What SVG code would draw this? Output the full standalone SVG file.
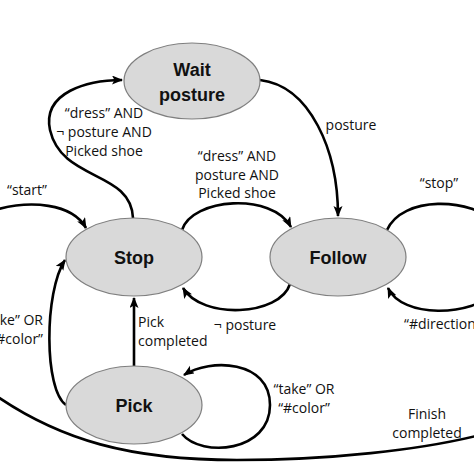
<svg xmlns="http://www.w3.org/2000/svg" width="474" height="474" viewBox="0 0 474 474">
<style>
.st{fill:#d9d9d9;stroke:#7f7f7f;stroke-width:1.2}
.t{font-family:"Liberation Sans",Arial,sans-serif;font-weight:bold;font-size:18px;fill:#111;text-anchor:middle}
.l{font-family:"Open Sans","Liberation Sans",sans-serif;font-size:14px;fill:#111}
.c{fill:none;stroke:#000;stroke-width:2.6}
</style>
<defs>
<marker id="ah" markerUnits="userSpaceOnUse" markerWidth="12" markerHeight="10" refX="10" refY="4.5" orient="auto">
<path d="M0,0 L11,4.5 L0,9 L2.5,4.5 z" fill="#000"/>
</marker>
</defs>
<rect width="474" height="474" fill="#fff"/>
<g id="connectors">
<path class="c" d="M133,218 C131,170 62,182 50,130 C42,92 88,80 122,80" marker-end="url(#ah)"/>
<path class="c" d="M260,80 C310,86 338,150 338,216" marker-end="url(#ah)"/>
<path class="c" d="M182,230 C192,198 272,192 291,227" marker-end="url(#ah)"/>
<path class="c" d="M290,284 C280,316 202,320 183,288" marker-end="url(#ah)"/>
<path class="c" d="M387,230 C402,196 470,196 500,225 M500,290 C470,318 402,318 388,288" marker-end="url(#ah)"/>
<path class="c" d="M-5,210 C30,200 72,203 86,228" marker-end="url(#ah)"/>
<path class="c" d="M66,405 C44,390 44,292 65,260" marker-end="url(#ah)"/>
<path class="c" d="M134,366 L134,298" marker-end="url(#ah)"/>
<path class="c" d="M182,434 C202,458 270,452 270,405 C270,360 210,358 184,375" marker-end="url(#ah)"/>
<path class="c" d="M-5,395 C60,440 130,460 237,460 C330,460 420,450 480,435"/>
</g>
<g id="wait"><ellipse class="st" cx="192" cy="81" rx="68" ry="38"/><text class="t" x="192" y="76">Wait</text><text class="t" x="192" y="101">posture</text></g>
<g id="stop"><ellipse class="st" cx="134" cy="257" rx="68" ry="39"/><text class="t" x="134" y="264">Stop</text></g>
<g id="follow"><ellipse class="st" cx="338" cy="257" rx="68" ry="39"/><text class="t" x="338" y="264">Follow</text></g>
<g id="pick"><ellipse class="st" cx="134" cy="405" rx="68" ry="39"/><text class="t" x="134" y="412">Pick</text></g>
<g id="labels">
<text class="l" x="104" y="118" text-anchor="middle">“dress” AND</text>
<text class="l" x="104" y="137" text-anchor="middle">¬ posture AND</text>
<text class="l" x="104" y="156" text-anchor="middle">Picked shoe</text>
<text class="l" x="351" y="130" text-anchor="middle">posture</text>
<text class="l" x="237" y="161" text-anchor="middle">“dress” AND</text>
<text class="l" x="237" y="180" text-anchor="middle">posture AND</text>
<text class="l" x="237" y="198" text-anchor="middle">Picked shoe</text>
<text class="l" x="439" y="188" text-anchor="middle">“stop”</text>
<text class="l" x="27" y="195" text-anchor="middle">“start”</text>
<text class="l" x="245" y="330" text-anchor="middle">¬ posture</text>
<text class="l" x="404" y="329">“#direction”</text>
<text class="l" x="43" y="325" text-anchor="end">“take” OR</text>
<text class="l" x="43" y="344" text-anchor="end">“#color”</text>
<text class="l" x="138" y="327">Pick</text>
<text class="l" x="138" y="346">completed</text>
<text class="l" x="304" y="394" text-anchor="middle">“take” OR</text>
<text class="l" x="304" y="413" text-anchor="middle">“#color”</text>
<text class="l" x="427" y="419" text-anchor="middle">Finish</text>
<text class="l" x="427" y="438" text-anchor="middle">completed</text>
</g>
</svg>
